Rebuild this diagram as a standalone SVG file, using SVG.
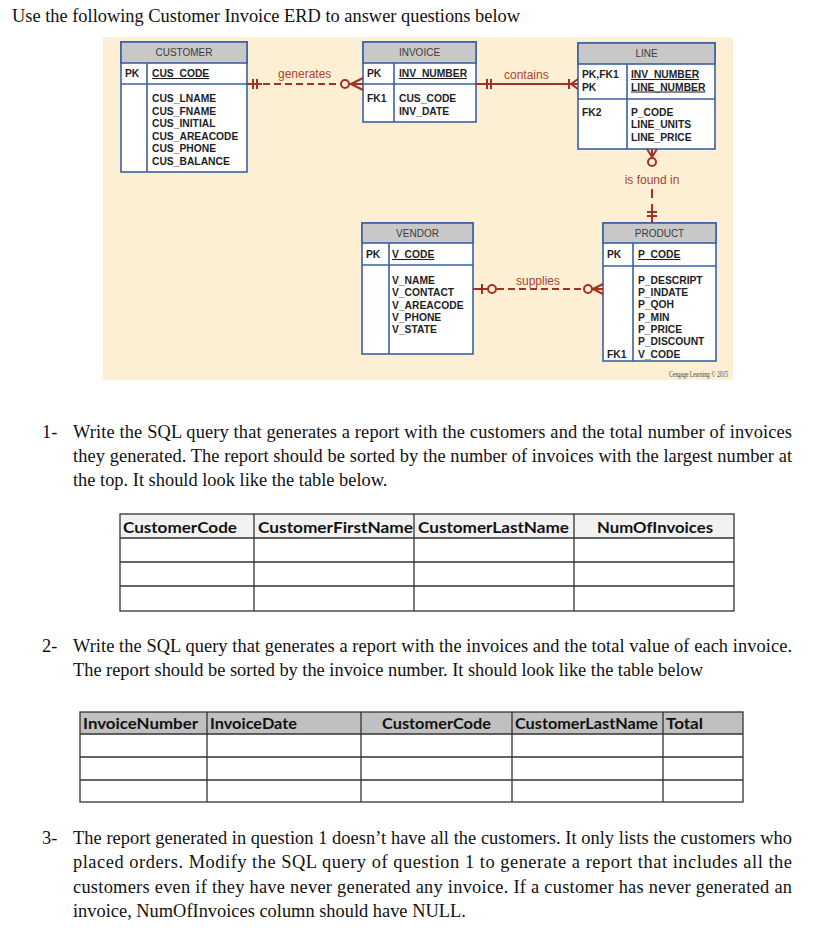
<svg xmlns="http://www.w3.org/2000/svg" width="813" height="939" viewBox="0 0 813 939">
<style>
.para{font-family:"Liberation Serif","Times New Roman",serif;font-size:18.4px;fill:#111}
.ent{fill:#fff;stroke:#3b5fa6;stroke-width:1.6}
.hdr{fill:#c8c8c8;stroke:#3b5fa6;stroke-width:1.6}
.div{stroke:#3b5fa6;stroke-width:1.6;fill:none}
.ht{font-family:"Liberation Sans",Arial,sans-serif;font-size:10px;fill:#3a3a3a;text-anchor:middle}
.at{font-family:"Liberation Sans",Arial,sans-serif;font-size:10.3px;font-weight:bold;fill:#1e1e1e}
.u{text-decoration:underline}
.cn{stroke:#a03224;stroke-width:2;fill:none}
.dash{stroke-dasharray:7 4}
.circ{stroke:#a03224;stroke-width:2;fill:#fcefd3}
.lbl{font-family:"Liberation Sans",Arial,sans-serif;font-size:12px;fill:#ab4434}
.tl{stroke:#333;stroke-width:1.3;fill:none}
.th{font-family:Lato,"Liberation Sans",sans-serif;font-size:15px;font-weight:bold;fill:#111}
</style>

<text class="para" x="12" y="22" textLength="508" lengthAdjust="spacing">Use the following Customer Invoice ERD to answer questions below</text>

<rect x="103" y="37" width="630" height="343" fill="#fcefd3"/>

<g id="customer">
<rect class="ent" x="121" y="42" width="126" height="130"/>
<rect class="hdr" x="121" y="42" width="126" height="21"/>
<line class="div" x1="121" y1="84" x2="247" y2="84"/>
<line class="div" x1="147" y1="63" x2="147" y2="172"/>
<text class="ht" x="184" y="56">CUSTOMER</text>
<text class="at" x="125" y="77">PK</text>
<text class="at u" x="152" y="77">CUS_CODE</text>
<text class="at" x="152" y="102">CUS_LNAME</text>
<text class="at" x="152" y="114.5">CUS_FNAME</text>
<text class="at" x="152" y="127">CUS_INITIAL</text>
<text class="at" x="152" y="139.5">CUS_AREACODE</text>
<text class="at" x="152" y="152">CUS_PHONE</text>
<text class="at" x="152" y="164.5">CUS_BALANCE</text>
</g>

<g id="invoice">
<rect class="ent" x="363" y="42" width="113" height="80"/>
<rect class="hdr" x="363" y="42" width="113" height="21"/>
<line class="div" x1="363" y1="84" x2="476" y2="84"/>
<line class="div" x1="394" y1="63" x2="394" y2="122"/>
<text class="ht" x="419.5" y="56">INVOICE</text>
<text class="at" x="367" y="77">PK</text>
<text class="at u" x="399" y="77">INV_NUMBER</text>
<text class="at" x="367" y="102">FK1</text>
<text class="at" x="399" y="102">CUS_CODE</text>
<text class="at" x="399" y="114.5">INV_DATE</text>
</g>

<g id="line">
<rect class="ent" x="578" y="43" width="137" height="106"/>
<rect class="hdr" x="578" y="43" width="137" height="21"/>
<line class="div" x1="578" y1="99" x2="715" y2="99"/>
<line class="div" x1="627" y1="64" x2="627" y2="149"/>
<text class="ht" x="646.5" y="57">LINE</text>
<text class="at" x="582" y="78">PK,FK1</text>
<text class="at" x="582" y="90.5">PK</text>
<text class="at u" x="631" y="78">INV_NUMBER</text>
<text class="at u" x="631" y="90.5">LINE_NUMBER</text>
<text class="at" x="582" y="115.5">FK2</text>
<text class="at" x="631" y="115.5">P_CODE</text>
<text class="at" x="631" y="128">LINE_UNITS</text>
<text class="at" x="631" y="140.5">LINE_PRICE</text>
</g>

<g id="vendor">
<rect class="ent" x="362" y="223" width="111" height="131"/>
<rect class="hdr" x="362" y="223" width="111" height="20"/>
<line class="div" x1="362" y1="265" x2="473" y2="265"/>
<line class="div" x1="389" y1="243" x2="389" y2="354"/>
<text class="ht" x="417.5" y="237">VENDOR</text>
<text class="at" x="366" y="258">PK</text>
<text class="at u" x="392" y="258">V_CODE</text>
<text class="at" x="392" y="283.7">V_NAME</text>
<text class="at" x="392" y="296.1">V_CONTACT</text>
<text class="at" x="392" y="308.5">V_AREACODE</text>
<text class="at" x="392" y="320.9">V_PHONE</text>
<text class="at" x="392" y="333.3">V_STATE</text>
</g>

<g id="product">
<rect class="ent" x="603" y="223" width="113" height="138"/>
<rect class="hdr" x="603" y="223" width="113" height="20"/>
<line class="div" x1="603" y1="266" x2="716" y2="266"/>
<line class="div" x1="633" y1="243" x2="633" y2="361"/>
<text class="ht" x="659.5" y="237">PRODUCT</text>
<text class="at" x="607" y="258">PK</text>
<text class="at u" x="638" y="258">P_CODE</text>
<text class="at" x="638" y="283.7">P_DESCRIPT</text>
<text class="at" x="638" y="296">P_INDATE</text>
<text class="at" x="638" y="308.4">P_QOH</text>
<text class="at" x="638" y="320.7">P_MIN</text>
<text class="at" x="638" y="333.1">P_PRICE</text>
<text class="at" x="638" y="345.4">P_DISCOUNT</text>
<text class="at" x="607" y="357.8">FK1</text>
<text class="at" x="638" y="357.8">V_CODE</text>
</g>

<text x="669" y="377" font-family="Liberation Serif,serif" font-size="8" fill="#444" textLength="59" lengthAdjust="spacingAndGlyphs">Cengage Learning © 2015</text>

<g id="connectors">
<g id="c-generates">
<line class="cn" x1="247" y1="84" x2="262" y2="84"/>
<line class="cn" x1="253" y1="79" x2="253" y2="89"/>
<line class="cn" x1="257" y1="79" x2="257" y2="89"/>
<line class="cn dash" x1="263" y1="84" x2="341" y2="84"/>
<circle class="circ" cx="345" cy="84" r="4"/>
<path class="cn" d="M349,84 H363 M351,84 L363,78 M351,84 L363,90"/>
<text class="lbl" x="278" y="78">generates</text>
</g>
<g id="c-contains">
<line class="cn" x1="476" y1="84" x2="578" y2="84"/>
<line class="cn" x1="487" y1="79" x2="487" y2="89"/>
<line class="cn" x1="491" y1="79" x2="491" y2="89"/>
<line class="cn" x1="569" y1="79" x2="569" y2="89"/>
<path class="cn" d="M571,84 L578,79 M571,84 L578,89"/>
<text class="lbl" x="504" y="79">contains</text>
</g>
<g id="c-foundin">
<path class="cn" d="M652,149 V158 M652,157 L647,149 M652,157 L657,149"/>
<circle class="circ" cx="652" cy="162" r="4"/>
<text class="lbl" x="652" y="184" text-anchor="middle">is found in</text>
<line class="cn" x1="652" y1="189" x2="652" y2="198"/>
<line class="cn" x1="652" y1="204" x2="652" y2="223"/>
<line class="cn" x1="647" y1="212" x2="657" y2="212"/>
<line class="cn" x1="647" y1="216" x2="657" y2="216"/>
</g>
<g id="c-supplies">
<line class="cn" x1="473" y1="289" x2="488" y2="289"/>
<line class="cn" x1="482" y1="284" x2="482" y2="294"/>
<circle class="circ" cx="492" cy="289" r="4"/>
<line class="cn dash" x1="497" y1="289" x2="584" y2="289"/>
<circle class="circ" cx="588" cy="289" r="4"/>
<path class="cn" d="M592,289 H603 M593,289 L603,284 M593,289 L603,294"/>
<text class="lbl" x="516" y="285">supplies</text>
</g>
</g>

<text class="para" x="42" y="438">1-</text>
<text class="para" x="73" y="438" textLength="719" lengthAdjust="spacing">Write the SQL query that generates a report with the customers and the total number of invoices</text>
<text class="para" x="73" y="462" textLength="719" lengthAdjust="spacing">they generated. The report should be sorted by the number of invoices with the largest number at</text>
<text class="para" x="73" y="486">the top. It should look like the table below.</text>

<g id="table1">
<rect x="120" y="514" width="614" height="24" fill="#f2f2f2"/>
<rect class="tl" x="120" y="514" width="614" height="97"/>
<path class="tl" d="M120,538 H734 M120,562 H734 M120,586 H734 M254,514 V611 M414,514 V611 M574,514 V611"/>
<text class="th" x="123" y="533" textLength="114" lengthAdjust="spacingAndGlyphs">CustomerCode</text>
<text class="th" x="258" y="533" textLength="155" lengthAdjust="spacingAndGlyphs">CustomerFirstName</text>
<text class="th" x="418" y="533" textLength="151" lengthAdjust="spacingAndGlyphs">CustomerLastName</text>
<text class="th" x="597" y="533" textLength="116" lengthAdjust="spacingAndGlyphs">NumOfInvoices</text>
</g>

<text class="para" x="42" y="652">2-</text>
<text class="para" x="73" y="652" textLength="719" lengthAdjust="spacing">Write the SQL query that generates a report with the invoices and the total value of each invoice.</text>
<text class="para" x="73" y="676" textLength="630" lengthAdjust="spacing">The report should be sorted by the invoice number. It should look like the table below</text>

<g id="table2">
<rect x="80" y="712" width="663" height="22" fill="#c0c0c0"/>
<rect class="tl" x="80" y="712" width="663" height="90"/>
<path class="tl" d="M80,734 H743 M80,757 H743 M80,780 H743 M207,712 V802 M361,712 V802 M512,712 V802 M663,712 V802"/>
<text class="th" x="83" y="729" textLength="115" lengthAdjust="spacingAndGlyphs">InvoiceNumber</text>
<text class="th" x="210" y="729" textLength="87" lengthAdjust="spacingAndGlyphs">InvoiceDate</text>
<text class="th" x="382" y="729" textLength="109" lengthAdjust="spacingAndGlyphs">CustomerCode</text>
<text class="th" x="515" y="729" textLength="143" lengthAdjust="spacingAndGlyphs">CustomerLastName</text>
<text class="th" x="666" y="729" textLength="37" lengthAdjust="spacingAndGlyphs">Total</text>
</g>

<text class="para" x="42" y="844">3-</text>
<text class="para" x="73" y="844" textLength="719" lengthAdjust="spacing">The report generated in question 1 doesn’t have all the customers. It only lists the customers who</text>
<text class="para" x="73" y="868" textLength="719" lengthAdjust="spacing">placed orders. Modify the SQL query of question 1 to generate a report that includes all the</text>
<text class="para" x="73" y="893" textLength="719" lengthAdjust="spacing">customers even if they have never generated any invoice. If a customer has never generated an</text>
<text class="para" x="73" y="917">invoice, NumOfInvoices column should have NULL.</text>
</svg>
